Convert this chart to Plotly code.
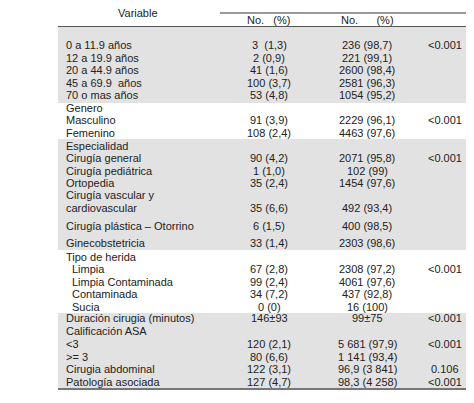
import plotly.graph_objects as go

labels = ["0 a 11.9 años", "12 a 19.9 años", "20 a 44.9 años", "45 a 69.9  años", "70 o mas años",
          "Genero", "Masculino", "Femenino",
          "Especialidad", "Cirugía general", "Cirugía pediátrica", "Ortopedia",
          "Cirugía vascular y", "cardiovascular", "Cirugía plástica – Otorrino", "Ginecobstetricia",
          "Tipo de herida", "Limpia", "Limpia Contaminada", "Contaminada", "Sucia",
          "Duración cirugia (minutos)", "Calificación ASA", "<3", ">= 3",
          "Cirugia abdominal", "Patología asociada"]
isq = ["3  (1,3)", "2 (0,9)", "41 (1,6)", "100 (3,7)", "53 (4,8)",
       "", "91 (3,9)", "108 (2,4)",
       "", "90 (4,2)", "1 (1,0)", "35 (2,4)", "", "35 (6,6)", "6 (1,5)", "33 (1,4)",
       "", "67 (2,8)", "99 (2,4)", "34 (7,2)", "0 (0)",
       "146±93", "", "120 (2,1)", "80 (6,6)", "122 (3,1)", "127 (4,7)"]
noisq = ["236 (98,7)", "221 (99,1)", "2600 (98,4)", "2581 (96,3)", "1054 (95,2)",
         "", "2229 (96,1)", "4463 (97,6)",
         "", "2071 (95,8)", "102 (99)", "1454 (97,6)", "", "492 (93,4)", "400 (98,5)", "2303 (98,6)",
         "", "2308 (97,2)", "4061 (97,6)", "437 (92,8)", "16 (100)",
         "99±75", "", "5 681 (97,9)", "1 141 (93,4)", "96,9 (3 841)", "98,3 (4 258)"]
pvals = ["<0.001", "", "", "", "",
         "", "<0.001", "",
         "", "<0.001", "", "", "", "", "", "",
         "", "<0.001", "", "", "",
         "<0.001", "", "<0.001", "", "0.106", "<0.001"]
indent = [0]*17 + [1, 1, 1, 1] + [0]*6

# layout (pixel) positions
row_y = [45, 58, 70, 83, 95, 108, 120, 133, 146, 158, 171, 183, 195, 208, 226, 243,
         257, 269, 282, 294, 307, 318, 331, 344, 357, 369, 382]
bands = [(27, 103, "#e2e2e2"), (139, 250, "#e2e2e2"), (313, 389, "#e2e2e2")]

fig = go.Figure()
fig.add_trace(go.Scatter(x=[100], y=[100], mode="markers", marker=dict(opacity=0), hoverinfo="skip", showlegend=False))

shapes = []
for y0, y1, c in bands:
    shapes.append(dict(type="rect", x0=58, x1=474, y0=y0, y1=y1, fillcolor=c, line_width=0, layer="below"))
shapes.append(dict(type="line", x0=220, x1=474, y0=13, y1=13, line=dict(color="#333", width=1)))
shapes.append(dict(type="line", x0=58, x1=474, y0=26.5, y1=26.5, line=dict(color="#555", width=1)))
shapes.append(dict(type="line", x0=58, x1=474, y0=389, y1=389, line=dict(color="#777", width=2)))

font = dict(family="Liberation Sans, Arial", size=11, color="#222")
ann = []
def t(x, y, s, anchor="center"):
    ann.append(dict(x=x, y=y, text=s, showarrow=False, xanchor=anchor, yanchor="middle", font=font))

t(138, 13, "Variable")
t(268, 7, "ISQ"); t(367, 7, "No ISQ"); t(443, 7, "valor p")
t(268, 20, "No.   (%)"); t(367, 20, "No.      (%)")
for i, lab in enumerate(labels):
    y = row_y[i]
    t(64 + 6*indent[i], y, lab, "left")
    if isq[i]: t(269, y, isq[i])
    if noisq[i]: t(367, y, noisq[i])
    if pvals[i]: t(445, y, pvals[i])

fig.update_layout(width=466, height=395, margin=dict(l=0, r=0, t=0, b=0),
                  plot_bgcolor="white", paper_bgcolor="white",
                  xaxis=dict(range=[8, 474], visible=False, fixedrange=True),
                  yaxis=dict(range=[403, 8], visible=False, fixedrange=True),
                  shapes=shapes, annotations=ann)
fig.write_html("out.html")
